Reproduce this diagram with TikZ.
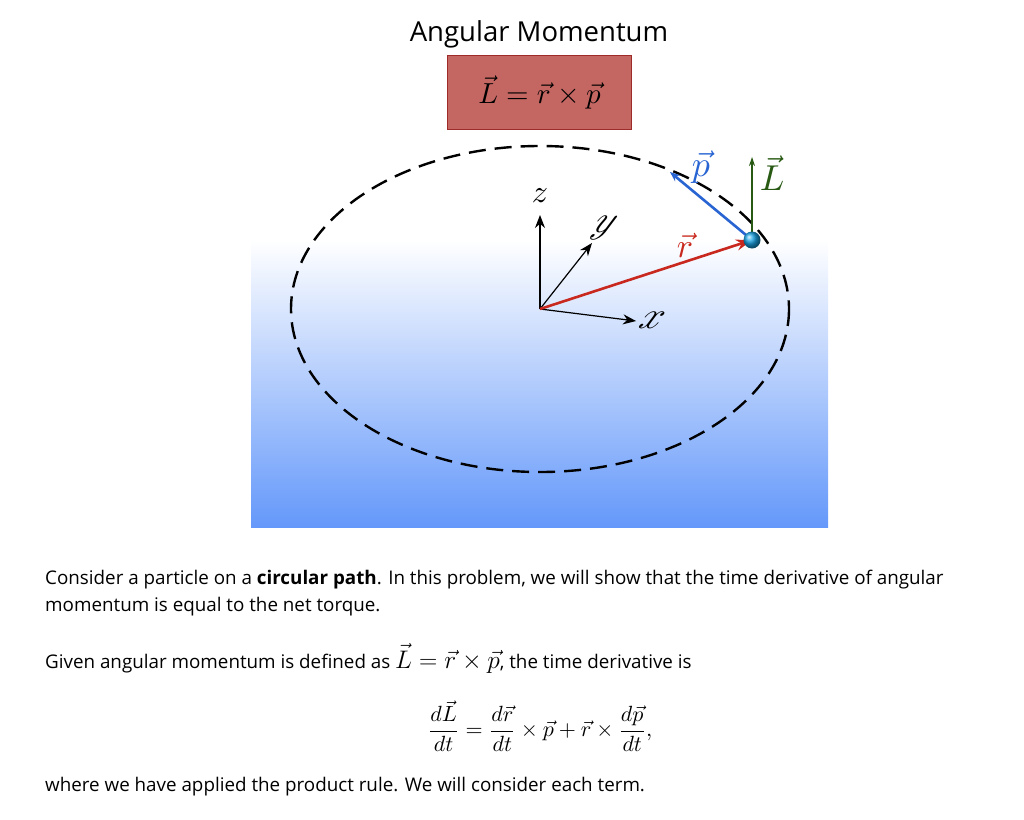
\RequirePackage{fix-cm}
\documentclass[tikz,border=0pt]{standalone}
\usepackage{fontspec}
\usepackage{graphicx}
\setmainfont{Open Sans}
\usetikzlibrary{arrows.meta,shadings}
\definecolor{boxfill}{RGB}{196,102,98}
\definecolor{boxdraw}{RGB}{158,42,42}
\definecolor{bottomblue}{RGB}{100,152,250}
\definecolor{rvec}{RGB}{200,40,30}
\definecolor{pvec}{RGB}{40,100,210}
\definecolor{Lvec}{RGB}{40,90,20}
\newcommand{\sm}[2]{\scalebox{#1}{$#2$}}
\begin{document}
\begin{tikzpicture}[x=1pt,y=-1pt,
  txt/.style={anchor=base west,font=\fontsize{18.8}{20}\selectfont,inner sep=0},
  axis/.style={-{Stealth[length=13pt,width=10pt]},line width=1.2pt}]
\useasboundingbox (0,0) rectangle (1024,819);
\shade[top color=white,bottom color=bottomblue] (251,240) rectangle (828,527);
\node[font=\fontsize{27.5}{30}\selectfont] (title) at (539,34) {Angular Momentum};
\node[draw=boxdraw,line width=1.5pt,fill=boxfill,minimum width=184pt,minimum height=74pt] (box) at (539.5,92.5) {\sm{2.9}{\vec L=\vec r\times\vec p}};
\draw[dashed,dash pattern=on 17pt off 9pt,line width=2.4pt] (540,309) ellipse [x radius=249,y radius=163];
\coordinate (o) at (540,309);
\coordinate (zt) at (540,215);
\coordinate (yt) at (592,243);
\coordinate (xt) at (636,321);
\draw[axis] (o) -- (zt);
\draw[axis] (o) -- (yt);
\draw[axis] (o) -- (xt);
\node (zl) at (540,196) {\sm{3.2}{z}};
\node[xslant=0.5] (yl) at (603,228) {\sm{3.8}{y}};
\node[xslant=0.5] (xl) at (652,320) {\sm{3.8}{x}};
\coordinate (P) at (752,240);
\draw[rvec,line width=2.6pt,-{Stealth[length=16pt,width=11pt]}] (o) -- (P);
\node[rvec] (rl) at (685,245) {\sm{3.4}{\vec r}};
\draw[pvec,line width=2.6pt,-{Stealth[length=10pt,width=8pt]}] (P) -- (670,172);
\node[pvec] (pl) at (701,167) {\sm{3.6}{\vec p}};
\draw[Lvec,line width=2pt,-{Stealth[length=9pt,width=6pt]}] (P) -- (752,157);
\node[Lvec] (Ll) at (772,173) {\sm{3.6}{\vec L}};
\shade[ball color=pvec!60!cyan] (P) circle (8.5);
\node[txt] (t1) at (45,584) {Consider a particle on a \textbf{circular path}. In this problem, we will show that the time derivative of angular};
\node[txt] (t2) at (45,611) {momentum is equal to the net torque.};
\node[txt] (t3) at (45,668) {Given angular momentum is defined as \sm{1.35}{\vec L=\vec r\times\vec p}, the time derivative is};
\node (eq) at (540,726) {\sm{2.2}{\displaystyle\frac{d\vec L}{dt}=\frac{d\vec r}{dt}\times\vec p+\vec r\times\frac{d\vec p}{dt},}};
\node[txt] (t4) at (45,791) {where we have applied the product rule. We will consider each term.};
\end{tikzpicture}
\end{document}
